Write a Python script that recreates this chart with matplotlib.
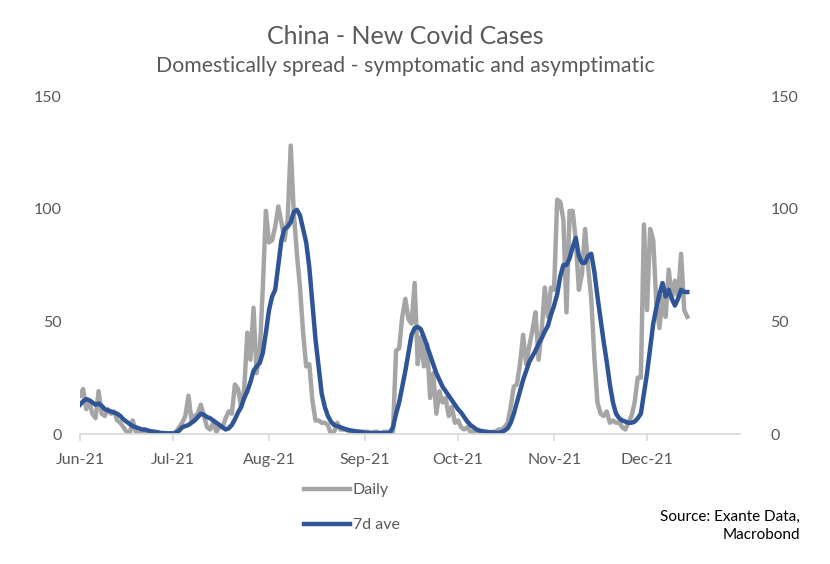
import matplotlib
matplotlib.use("Agg")
import matplotlib.pyplot as plt
import matplotlib.dates as mdates
import pandas as pd

plt.rcParams['font.family'] = ['Lato', 'DejaVu Sans']

# daily new domestic cases from 1 Jun 2021
daily = [
    # Jun
    17, 20, 11, 14, 9, 7, 19, 9, 8, 11, 9, 10, 6, 5, 3,
    1, 0, 6, 1, 0, 1, 0, 0, 1, 0, 0, 0, 0, 0, 0,
    # Jul
    0, 1, 3, 5, 8, 17, 6, 8, 9, 13, 8, 3, 2, 5, 1, 3,
    3, 7, 10, 9, 22, 20, 12, 20, 45, 33, 56, 27, 36, 65, 99,
    # Aug
    85, 86, 92, 101, 94, 86, 95, 128, 98, 80, 65, 45, 30, 31, 15, 6,
    6, 5, 5, 4, 0, 1, 5, 2, 2, 2, 1, 1, 1, 1, 1,
    # Sep
    1, 1, 0, 1, 1, 0, 1, 1, 1, 1, 37, 38, 52, 60, 51,
    49, 67, 31, 43, 30, 40, 16, 27, 9, 19, 14, 16, 8, 12, 5,
    # Oct
    6, 3, 2, 3, 1, 1, 0, 1, 0, 1, 0, 1, 1, 2, 2, 3,
    5, 12, 21, 22, 31, 44, 31, 39, 46, 54, 33, 46, 65, 52, 65,
    # Nov
    64, 104, 103, 95, 54, 99, 99, 86, 64, 71, 91, 74, 60, 34, 14,
    9, 8, 10, 5, 6, 5, 5, 3, 2, 5, 8, 14, 25, 25, 93,
    # Dec
    55, 91, 86, 58, 47, 61, 52, 73, 60, 68, 61, 80, 55, 52,
]

ave7 = [
    # Jun
    13, 14.5, 15.5, 15, 14, 13, 13.5, 12.5, 11, 10.5, 10, 9.5, 9, 8, 6.5,
    5.5, 4.5, 3.5, 3, 2.5, 2, 2, 1.5, 1.2, 1, 0.8, 0.5, 0.4, 0.3, 0.3,
    # Jul
    0.3, 0.6, 1.5, 3, 3.5, 4, 5, 6, 7.5, 9, 8.5, 7.5, 7, 6, 5, 4,
    3, 2, 2.5, 4, 6.5, 9.5, 12, 16, 19, 23, 28, 30, 31.5, 36, 45,
    # Aug
    55, 61, 64, 75, 86, 91, 92, 94, 98.5, 99.5, 97, 91, 85, 74, 58, 42,
    30, 18, 12, 8, 5.5, 4, 3.5, 3, 2.5, 2, 1.7, 1.4, 1.2, 1, 0.8,
    # Sep
    0.6, 0.5, 0.5, 0.4, 0.4, 0.4, 0.4, 0.4, 0.5, 3, 9, 14, 21, 28, 36,
    44, 47, 47.5, 46.5, 43, 39, 35, 31, 27, 24, 21, 19, 17, 15, 13,
    # Oct
    11, 9.5, 7.5, 5.5, 4, 3, 2, 1.5, 1.2, 1, 0.8, 0.7, 0.6, 0.5, 0.8, 1.5,
    2.5, 5, 9, 14, 19, 24, 28, 32, 34.5, 37, 40, 42.5, 45.5, 48, 53,
    # Nov
    57, 62, 70, 75, 75, 78, 83, 87, 79, 76, 76, 79, 80, 72, 61,
    51, 41, 32, 22, 14, 9, 7, 6, 5.5, 5, 5, 5.5, 7, 9, 18,
    # Dec
    27, 38, 49, 56, 62, 67, 61, 64, 60, 57, 60, 64, 63, 63,
]

dates = pd.date_range("2021-06-01", periods=len(daily), freq="D")
month_ticks = pd.date_range("2021-06-01", "2021-12-01", freq="MS")
y_ticks = [0, 50, 100, 150]

grey = '#A5A5A5'
blue = '#2F5597'
txt = '#595959'

fig = plt.figure(figsize=(8.3, 5.64), dpi=100)
ax = fig.add_axes([80 / 830, 130 / 564, 660 / 830, 338 / 564])

ax.plot(dates, daily, color=grey, lw=3.2, label='Daily', solid_joinstyle='round')
ax.plot(dates, ave7, color=blue, lw=3.2, label='7d ave', solid_joinstyle='round')

ax.set_xlim(pd.Timestamp("2021-06-01"), pd.Timestamp("2021-12-31"))
ax.set_ylim(0, 150)
ax.set_xticks(month_ticks)
ax.xaxis.set_major_formatter(mdates.DateFormatter('%b-%y'))
ax.set_yticks(y_ticks)

for s in ['top', 'right', 'left']:
    ax.spines[s].set_visible(False)
ax.spines['bottom'].set_color('#D9D9D9')
ax.spines['bottom'].set_linewidth(1.2)
ax.tick_params(axis='x', colors='#D9D9D9', length=5, width=1.2, pad=9,
               labelcolor=txt, labelsize=11.5)
ax.tick_params(axis='y', length=0, pad=13, labelcolor=txt, labelsize=11.5)

ax2 = ax.twinx()
ax2.set_ylim(0, 150)
ax2.set_yticks(y_ticks)
for s in ax2.spines.values():
    s.set_visible(False)
ax2.tick_params(axis='y', length=0, pad=22, labelcolor=txt, labelsize=11.5)

fig.text(405 / 830, 1 - 36 / 564, 'China - New Covid Cases', ha='center', va='center',
         fontsize=18, color=txt)
fig.text(405 / 830, 1 - 66 / 564, 'Domestically spread - symptomatic and asymptimatic',
         ha='center', va='center', fontsize=15.3, color=txt)

leg = ax.legend(loc='upper left', bbox_to_anchor=(304 / 830, 1 - 483 / 564),
                bbox_transform=fig.transFigure, frameon=False, fontsize=11.5,
                handlelength=2.9, handletextpad=0.15, labelspacing=1.3,
                borderaxespad=0, borderpad=0)
for t in leg.get_texts():
    t.set_color(txt)

fig.text(800 / 830, 1 - 526 / 564, 'Source: Exante Data,\nMacrobond', ha='right',
         va='center', fontsize=11, color='black', linespacing=1.35)

fig.savefig('out.png', dpi=100, facecolor='white')
